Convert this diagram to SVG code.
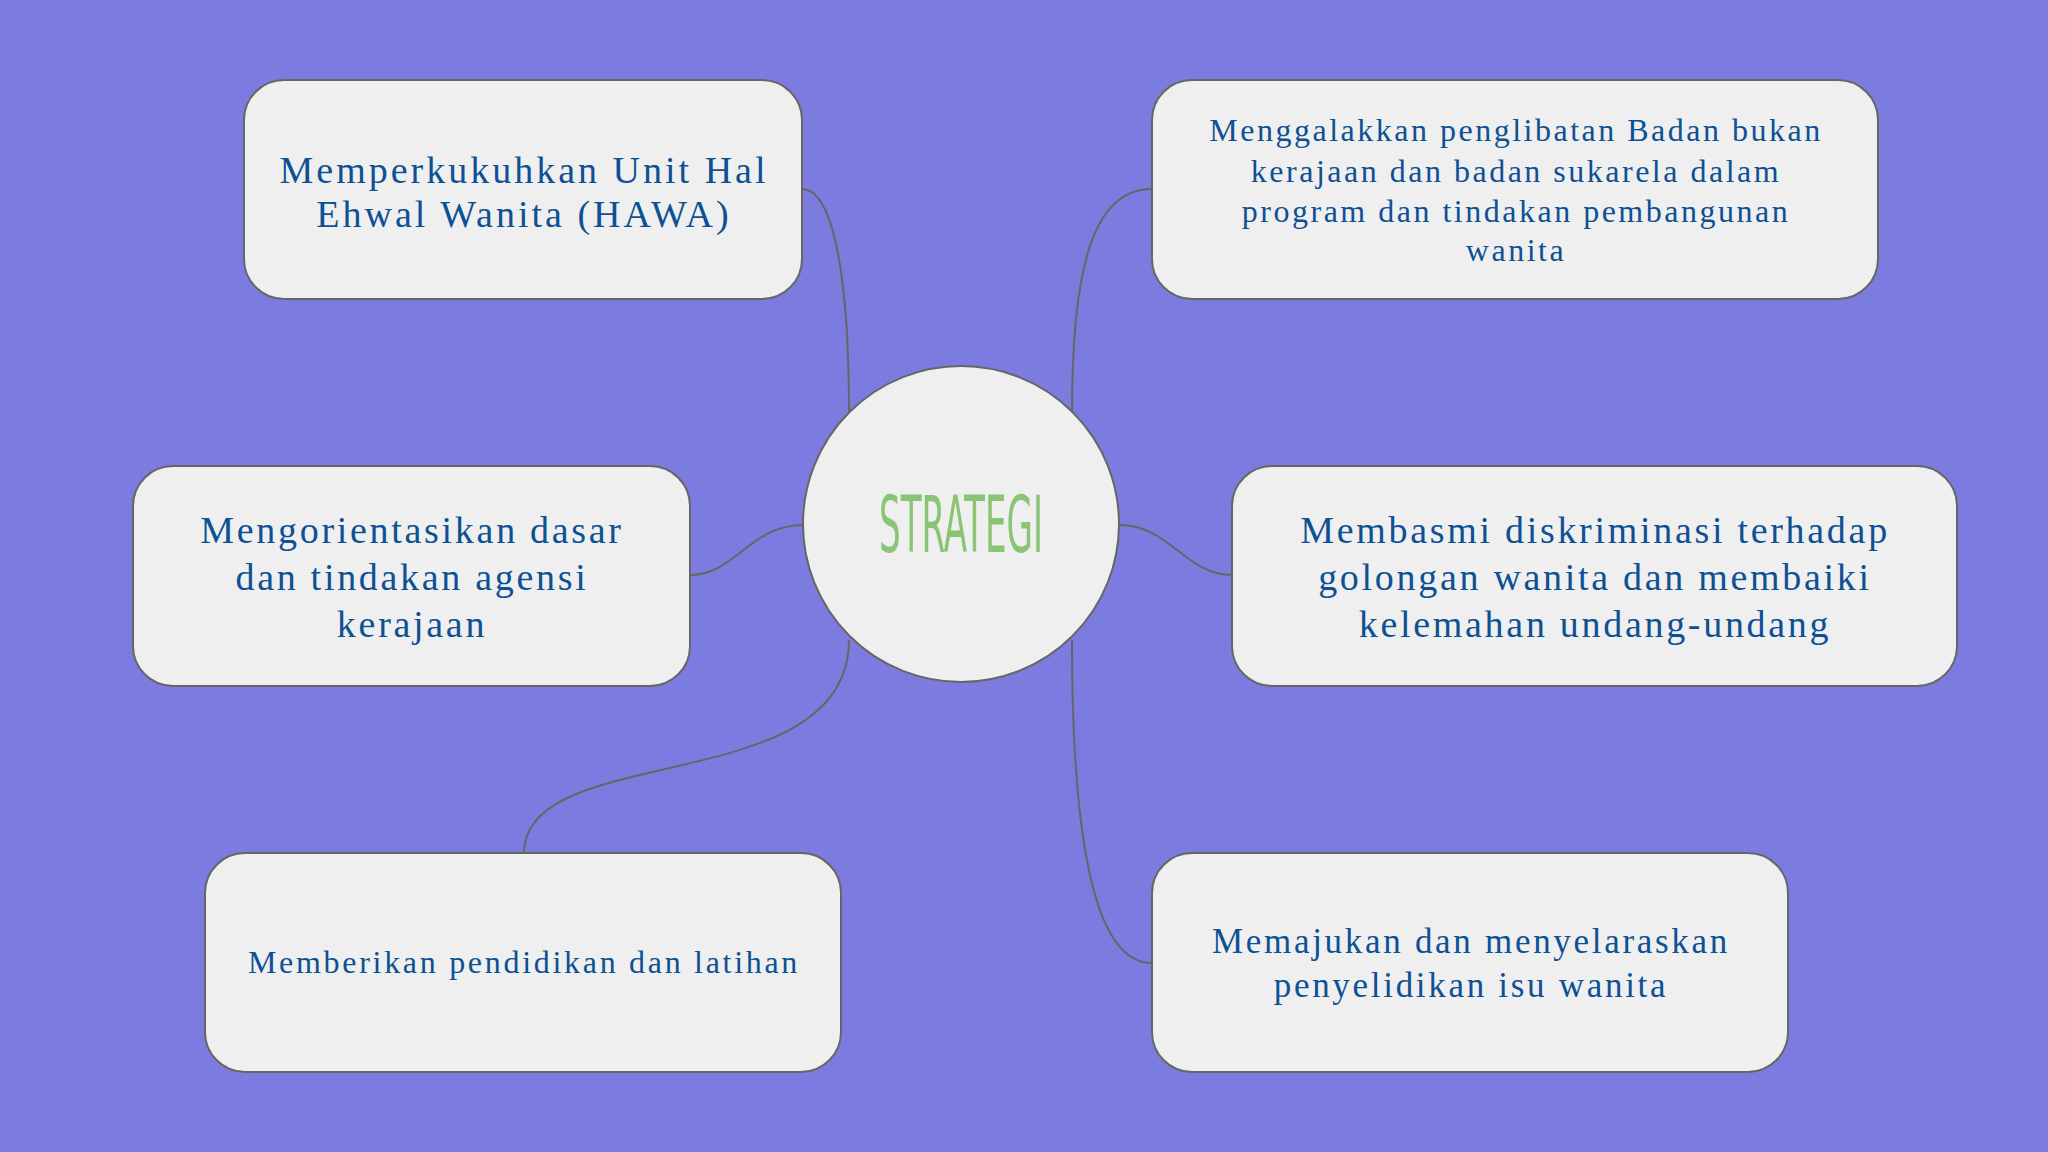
<svg xmlns="http://www.w3.org/2000/svg" width="2048" height="1152" viewBox="0 0 2048 1152">
<style>
.box{fill:#efefef;stroke:#666;stroke-width:2}
.lbl{font-family:"Liberation Serif",serif;fill:#0d5194;text-anchor:middle;letter-spacing:2.7px}
.conn{fill:none;stroke:#666;stroke-width:2}
</style>
<rect width="2048" height="1152" fill="#7c7ce0"/>
<g id="connectors">
<path class="conn" d="M802,189 C832,189 849,270 849,413"/>
<path class="conn" d="M1152,189 C1092,189 1072,270 1072,413"/>
<path class="conn" d="M690,575 C735,575 750,525 803,525"/>
<path class="conn" d="M1119,525 C1170,525 1185,575 1232,575"/>
<path class="conn" d="M849,640 C849,800 524,740 524,853"/>
<path class="conn" d="M1072,640 C1072,900 1110,963 1152,963"/>
</g>
<g id="center">
<circle cx="961" cy="524" r="158" class="box"/>
<text x="961" y="552" font-family="DejaVu Sans Condensed, sans-serif" font-size="78" fill="#8bc474" text-anchor="middle" textLength="164" lengthAdjust="spacingAndGlyphs">STRATEGI</text>
</g>
<g id="n1">
<rect x="244" y="80" width="558" height="219" rx="40" class="box"/>
<text class="lbl" font-size="38" style="letter-spacing:3px"><tspan x="524" y="183">Memperkukuhkan Unit Hal</tspan><tspan x="524" y="227">Ehwal Wanita (HAWA)</tspan></text>
</g>
<g id="n2">
<rect x="1152" y="80" width="726" height="219" rx="40" class="box"/>
<text class="lbl" font-size="32" style="letter-spacing:2.5px"><tspan x="1516" y="141">Menggalakkan penglibatan Badan bukan</tspan><tspan x="1516" y="182">kerajaan dan badan sukarela dalam</tspan><tspan x="1516" y="222">program dan tindakan pembangunan</tspan><tspan x="1516" y="261">wanita</tspan></text>
</g>
<g id="n3">
<rect x="133" y="466" width="557" height="220" rx="40" class="box"/>
<text class="lbl" font-size="38"><tspan x="412" y="543">Mengorientasikan dasar</tspan><tspan x="412" y="590">dan tindakan agensi</tspan><tspan x="412" y="637">kerajaan</tspan></text>
</g>
<g id="n4">
<rect x="1232" y="466" width="725" height="220" rx="40" class="box"/>
<text class="lbl" font-size="38"><tspan x="1595" y="543">Membasmi diskriminasi terhadap</tspan><tspan x="1595" y="590">golongan wanita dan membaiki</tspan><tspan x="1595" y="637">kelemahan undang-undang</tspan></text>
</g>
<g id="n5">
<rect x="205" y="853" width="636" height="219" rx="40" class="box"/>
<text class="lbl" font-size="32"><tspan x="524" y="973">Memberikan pendidikan dan latihan</tspan></text>
</g>
<g id="n6">
<rect x="1152" y="853" width="636" height="219" rx="40" class="box"/>
<text class="lbl" font-size="35"><tspan x="1471" y="953">Memajukan dan menyelaraskan</tspan><tspan x="1471" y="997">penyelidikan isu wanita</tspan></text>
</g>
</svg>
